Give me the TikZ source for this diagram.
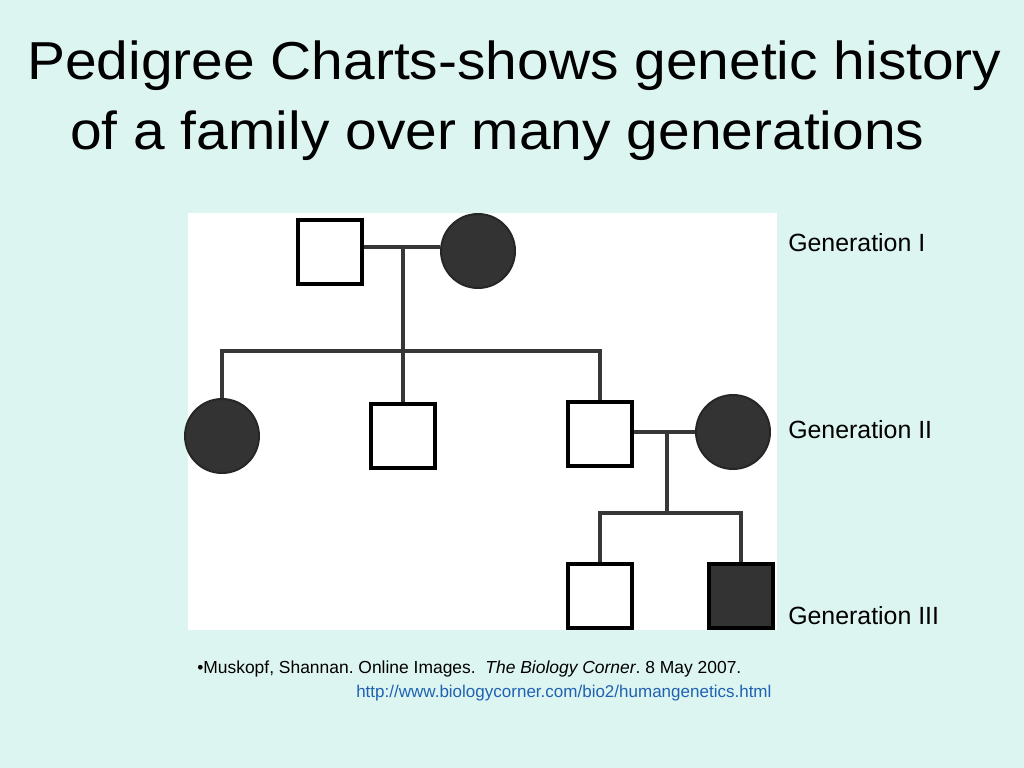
\documentclass[tikz,border=0pt]{standalone}
\usepackage{fontspec}
\setmainfont{Liberation Sans}
\newfontfamily\titlefont{Liberation Sans}[FakeStretch=1.065]
\definecolor{slidebg}{RGB}{221,245,241}
\definecolor{kinline}{RGB}{55,55,55}
\definecolor{affected}{RGB}{51,51,51}
\definecolor{urlblue}{RGB}{31,98,178}
\frenchspacing
\begin{document}
\begin{tikzpicture}[x=0.025cm,y=-0.025cm,
  male/.style={draw=black,line width=2.7pt,fill=white,minimum size=1.6cm,inner sep=0pt},
  female/.style={circle,draw=black!85,line width=1.4pt,fill=affected,minimum size=1.85cm,inner sep=0pt},
  kin/.style={draw=kinline,line width=2.5pt},
  genlabel/.style={anchor=base west,inner sep=0pt,font=\fontsize{17.7}{20}\selectfont},
  heading/.style={anchor=base west,inner sep=0pt,font=\titlefont\fontsize{38}{44}\selectfont}]
\fill[slidebg] (0,0) rectangle (1024,768);
\useasboundingbox (0,0) rectangle (1024,768);
\fill[white] (188,213) rectangle (777,630);

\node[heading] (title1) at (27,80) {Pedigree Charts-shows genetic history};
\node[heading] (title2) at (70,150) {of a family over many generations};

% generation I
\node[male] (dad) at (330,252) {};
\node[female] (mom) at (478,251) {};
% generation II
\node[female] (kid1) at (222,436) {};
\node[male] (kid2) at (403,436) {};
\node[male] (kid3) at (600,434) {};
\node[female] (wife) at (733,432) {};
% generation III
\node[male] (grand1) at (600,596) {};
\node[male,fill=affected] (grand2) at (741,596) {};

\coordinate (mar1) at (403,247);
\coordinate (sib1) at (403,351);
\coordinate (mar2) at (667,432);
\coordinate (sib2) at (667,513);

\draw[kin] (dad.east |- mar1) -- (mom.west |- mar1);
\draw[kin] (mar1) -- (kid2.north);
\draw[kin] (kid1.north) |- (sib1) -| (kid3.north);
\draw[kin] (kid3.east |- mar2) -- (wife.west |- mar2);
\draw[kin] (mar2) -- (sib2);
\draw[kin] (grand1.north) |- (sib2) -| (grand2.north);

\node[genlabel] (gen1) at (788,251) {Generation I};
\node[genlabel] (gen2) at (788,438) {Generation II};
\node[genlabel] (gen3) at (788,624) {Generation III};

\node[anchor=base west,inner sep=0pt,font=\fontsize{12.4}{14}\selectfont] (cite) at (197,673) {•Muskopf, Shannan. Online Images.\ \ \textit{The Biology Corner}. 8 May 2007.};
\node[anchor=base west,inner sep=0pt,text=urlblue,font=\fontsize{12.1}{14}\selectfont] (url) at (356,697) {http://www.biologycorner.com/bio2/humangenetics.html};
\end{tikzpicture}
\end{document}
